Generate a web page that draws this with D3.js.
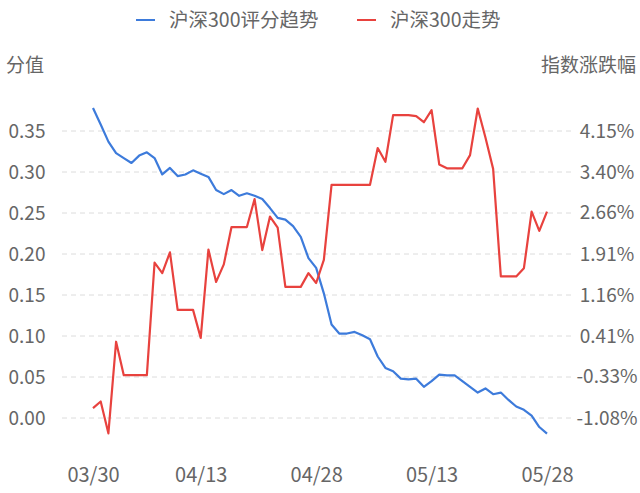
<!DOCTYPE html>
<html>
<head>
<meta charset="utf-8">
<script src="https://cdn.jsdelivr.net/npm/d3@7"></script>
<style>
  body { margin: 0; background: #fff; }
  text { font-family: "Noto Sans CJK SC", "Noto Sans", sans-serif; }
</style>
</head>
<body>
<svg id="chart" width="640" height="493"></svg>
<script>
// daily points, 03/30 .. 05/28
const dates = [
  "03/30","03/31","04/01","04/02","04/03","04/04","04/05","04/06","04/07","04/08",
  "04/09","04/10","04/11","04/12","04/13","04/14","04/15","04/16","04/17","04/18",
  "04/19","04/20","04/21","04/22","04/23","04/24","04/25","04/26","04/27","04/28",
  "04/29","04/30","05/01","05/02","05/03","05/04","05/05","05/06","05/07","05/08",
  "05/09","05/10","05/11","05/12","05/13","05/14","05/15","05/16","05/17","05/18",
  "05/19","05/20","05/21","05/22","05/23","05/24","05/25","05/26","05/27","05/28"
];

// 沪深300评分趋势 (left axis)
const scoreTrend = [
  0.378, 0.358, 0.337, 0.323, 0.317, 0.311, 0.320, 0.324, 0.317, 0.297,
  0.305, 0.295, 0.297, 0.302, 0.298, 0.294, 0.278, 0.273, 0.278, 0.271,
  0.274, 0.271, 0.267, 0.256, 0.244, 0.242, 0.234, 0.221, 0.195, 0.183,
  0.152, 0.114, 0.103, 0.103, 0.105, 0.101, 0.096, 0.075, 0.061, 0.057,
  0.048, 0.047, 0.048, 0.038, 0.045, 0.053, 0.052, 0.052, 0.045, 0.038,
  0.031, 0.036, 0.029, 0.031, 0.022, 0.014, 0.010, 0.003, -0.011, -0.019
];

// 沪深300走势 (right axis, %)
const indexTrend = [
  -0.90, -0.78, -1.36, 0.31, -0.30, -0.30, -0.30, -0.30, 1.75, 1.56,
  1.94, 0.89, 0.89, 0.89, 0.38, 1.99, 1.40, 1.72, 2.40, 2.40,
  2.40, 2.91, 1.98, 2.59, 2.39, 1.31, 1.31, 1.31, 1.56, 1.38,
  1.80, 3.17, 3.17, 3.17, 3.17, 3.17, 3.17, 3.84, 3.59, 4.44,
  4.44, 4.44, 4.42, 4.31, 4.53, 3.54, 3.47, 3.47, 3.47, 3.71,
  4.56, 4.03, 3.46, 1.50, 1.50, 1.50, 1.65, 2.68, 2.33, 2.68
];

const leftTicks = [0, 0.05, 0.10, 0.15, 0.20, 0.25, 0.30, 0.35];
const rightTicks = [-1.08, -0.33, 0.41, 1.16, 1.91, 2.66, 3.40, 4.15];
const xTickLabels = ["03/30", "04/13", "04/28", "05/13", "05/28"];

const seriesNames = ["沪深300评分趋势", "沪深300走势"];
const colors = ["#3d7bdb", "#e8423e"];

const svg = d3.select("#chart");

const x = d3.scalePoint().domain(dates).range([93, 547]);
const yLeft = d3.scaleLinear().domain([-0.025, 0.385]).range([438.5, 102.3]);
const yRight = d3.scaleLinear()
  .domain([rightTicks[0], rightTicks[rightTicks.length - 1]])
  .range([yLeft(0), yLeft(0.35)]);

// grid
svg.append("g")
  .selectAll("line")
  .data(leftTicks)
  .enter().append("line")
  .attr("x1", 62).attr("x2", 572)
  .attr("y1", d => yLeft(d)).attr("y2", d => yLeft(d))
  .attr("stroke", "#dcdcdc")
  .attr("stroke-width", 1)
  .attr("stroke-dasharray", "5,4");

// left axis
const leftAxis = svg.append("g")
  .attr("transform", "translate(27,0)")
  .call(d3.axisLeft(yLeft).tickValues(leftTicks).tickFormat(d3.format(".2f")).tickSize(0).tickPadding(0));
leftAxis.select(".domain").remove();
leftAxis.selectAll("text")
  .attr("text-anchor", "middle")
  .attr("fill", "#666").style("font-size", "19px");

// right axis
const rightAxis = svg.append("g")
  .attr("transform", "translate(607,0)")
  .call(d3.axisRight(yRight).tickValues(rightTicks).tickFormat(d => d.toFixed(2) + "%").tickSize(0).tickPadding(0));
rightAxis.select(".domain").remove();
rightAxis.selectAll("text")
  .attr("text-anchor", "middle")
  .attr("fill", "#666").style("font-size", "19px");

// bottom axis
const bottomAxis = svg.append("g")
  .attr("transform", "translate(0,468)")
  .call(d3.axisBottom(x).tickValues(xTickLabels).tickSize(0).tickPadding(0));
bottomAxis.select(".domain").remove();
bottomAxis.selectAll("text")
  .attr("fill", "#666").style("font-size", "20px");

// axis titles
svg.append("text").attr("x", 6).attr("y", 72)
  .attr("fill", "#666").style("font-size", "19px").text("分值");
svg.append("text").attr("x", 636).attr("y", 72).attr("text-anchor", "end")
  .attr("fill", "#666").style("font-size", "19px").text("指数涨跌幅");

// lines
const leftLine = d3.line().x((d, i) => x(dates[i])).y(d => yLeft(d));
const rightLine = d3.line().x((d, i) => x(dates[i])).y(d => yRight(d));

svg.append("path").datum(scoreTrend)
  .attr("d", leftLine)
  .attr("fill", "none").attr("stroke", colors[0]).attr("stroke-width", 2.2)
  .attr("stroke-linejoin", "round");

svg.append("path").datum(indexTrend)
  .attr("d", rightLine)
  .attr("fill", "none").attr("stroke", colors[1]).attr("stroke-width", 2.2)
  .attr("stroke-linejoin", "round");

// legend
const legendX = [136, 357];
const legend = svg.append("g")
  .selectAll("g")
  .data(seriesNames)
  .enter().append("g")
  .attr("transform", (d, i) => `translate(${legendX[i]},20)`);
legend.append("line")
  .attr("x1", 0).attr("x2", 19).attr("y1", 0).attr("y2", 0)
  .attr("stroke", (d, i) => colors[i]).attr("stroke-width", 2);
legend.append("text")
  .attr("x", 33).attr("dy", "0.35em")
  .attr("fill", "#666").style("font-size", "19.5px")
  .text(d => d);
</script>
</body>
</html>
